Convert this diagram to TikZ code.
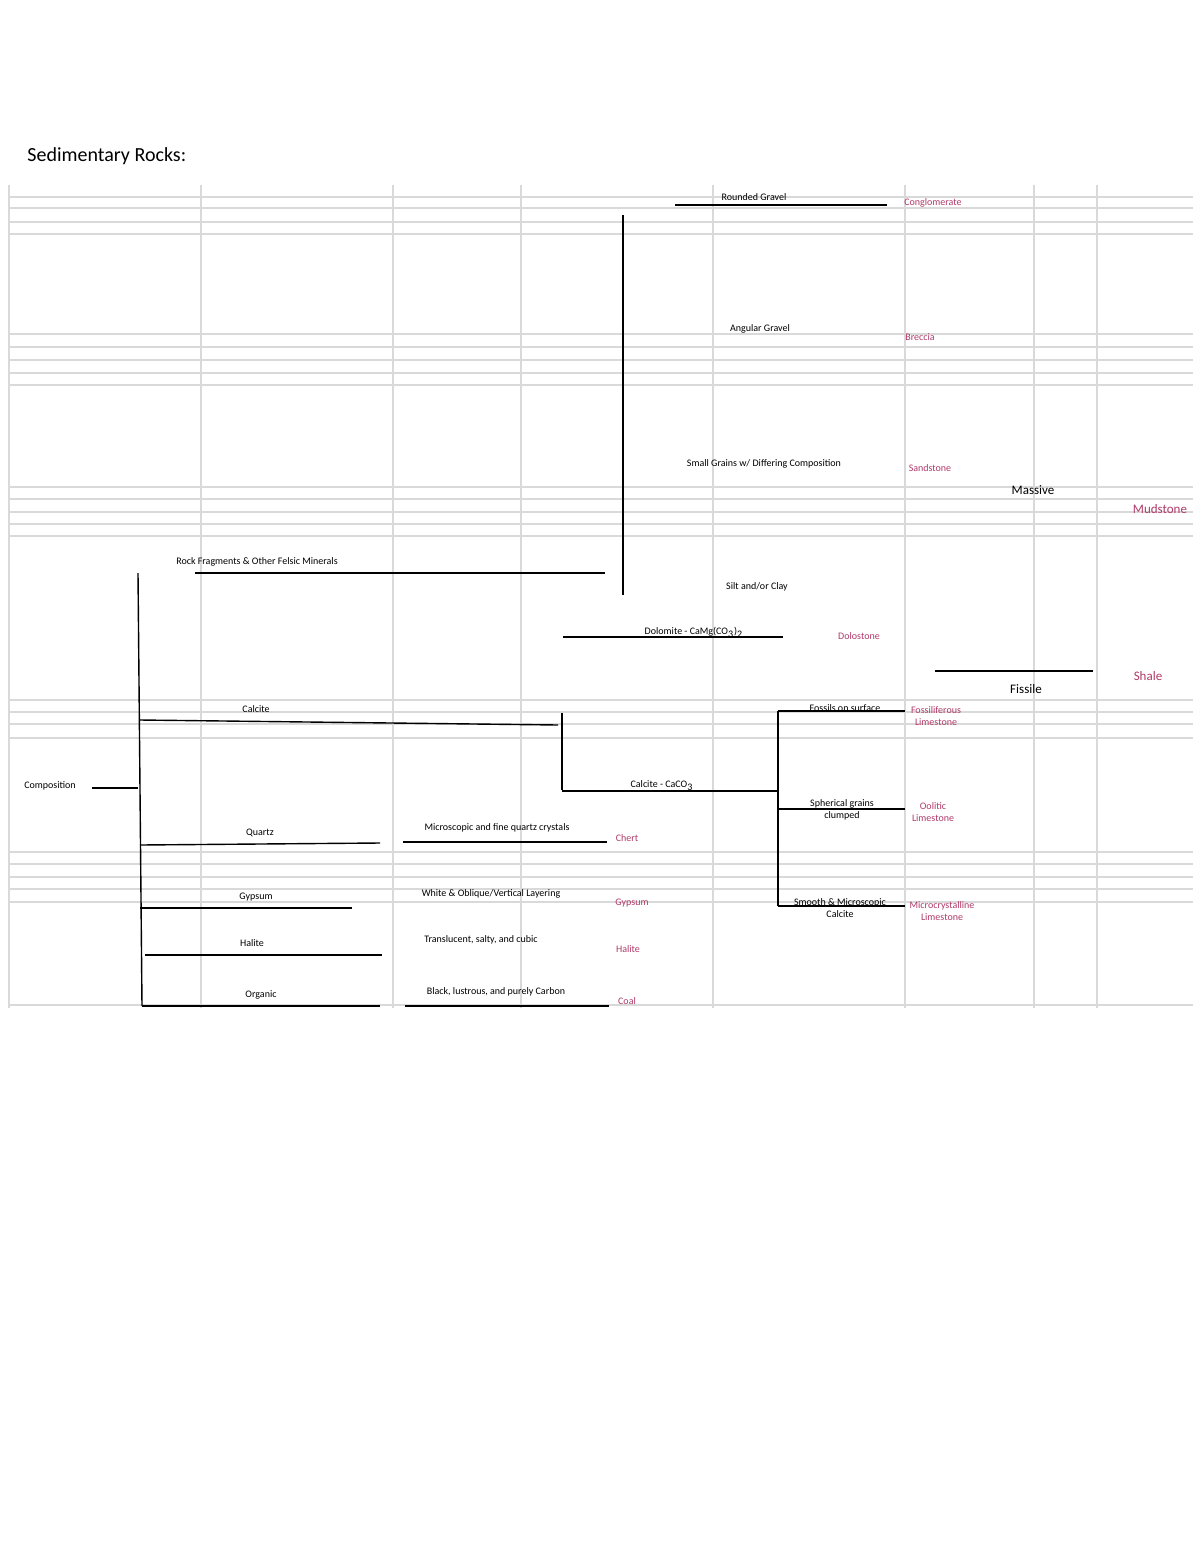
\documentclass[tikz,border=0pt]{standalone}
\usepackage{fontspec}
\setmainfont{Carlito}
\begin{document}
\begin{tikzpicture}[x=0.5pt,y=-0.5pt,
 grid/.style={draw=black!15,line width=0.6pt},
 ln/.style={draw=black,line width=0.7pt},
 t/.style={font=\fontsize{5}{6}\selectfont,inner sep=0pt,align=center},
 r/.style={t,text=rocky},
 big/.style={font=\fontsize{6.5}{7.5}\selectfont,inner sep=0pt},
 rbig/.style={big,text=rocky}]
\definecolor{rocky}{HTML}{B03A6A}
\useasboundingbox (0,0) rectangle (1200,1553);
\fill[white] (0,0) rectangle (1200,1553);
\node[anchor=west,font=\fontsize{10}{12}\selectfont,inner sep=0pt] (title) at (27,156) {Sedimentary Rocks:};
% grid
\foreach \x in {9,201,393,521,713,905,1034,1097}
  \draw[grid] (\x,185) -- (\x,1008);
\foreach \y in {197,208,222,234,334,347,360,373,385,487,499,512,524,536,700,712,724,738,852,864,877,889,902,1005}
  \draw[grid] (9,\y) -- (1193,\y);
% texts
\node[t] (rg) at (754,197) {Rounded Gravel};
\node[r] (cg) at (933,203) {Conglomerate};
\node[t] (ag) at (760,329) {Angular Gravel};
\node[r] (br) at (920,337) {Breccia};
\node[t] (sg) at (764,464) {Small Grains w/ Differing Composition};
\node[r] (ss) at (930,468) {Sandstone};
\node[big] (ma) at (1033,490) {Massive};
\node[rbig] (md) at (1160,509) {Mudstone};
\node[t] (rf) at (257,562) {Rock Fragments \& Other Felsic Minerals};
\node[t] (sc) at (757,587) {Silt and/or Clay};
\node[t] (do) at (694,632) {Dolomite - CaMg(CO\textsubscript{3})\textsubscript{2}};
\node[r] (ds) at (859,636) {Dolostone};
\node[rbig] (sh) at (1148,676) {Shale};
\node[big] (fi) at (1026,689) {Fissile};
\node[t] (ca) at (256,709) {Calcite};
\node[t] (fo) at (845,708) {Fossils on surface};
\node[r] (fl) at (936,716) {Fossiliferous\\[0.3pt]Limestone};
\node[t] (co) at (50,786) {Composition};
\node[t] (cc) at (662,786) {Calcite - CaCO\textsubscript{3}};
\node[t] (sp) at (842,810) {Spherical grains\\[0.3pt]clumped};
\node[r] (ol) at (933,812) {Oolitic\\[0.3pt]Limestone};
\node[t] (qz) at (260,833) {Quartz};
\node[t] (mq) at (497,828) {Microscopic and fine quartz crystals};
\node[r] (ch) at (627,838) {Chert};
\node[t] (wo) at (491,894) {White \& Oblique/Vertical Layering};
\node[t] (gy) at (256,897) {Gypsum};
\node[r] (gyr) at (632,903) {Gypsum};
\node[t] (sm) at (840,908) {Smooth \& Microscopic\\[0.3pt]Calcite};
\node[r] (mc) at (942,911) {Microcrystalline\\[0.3pt]Limestone};
\node[t] (ha) at (252,943) {Halite};
\node[t] (tr) at (481,940) {Translucent, salty, and cubic};
\node[r] (har) at (628,949) {Halite};
\node[t] (og) at (261,995) {Organic};
\node[t] (bl) at (496,992) {Black, lustrous, and purely Carbon};
\node[r] (coal) at (627,1001) {Coal};
% connectors
\draw[ln] (675,205) -- (887,205);
\draw[ln] (623,215) -- (623,595);
\draw[ln] (195,573) -- (605,573);
\draw[ln] (563,637) -- (783,637);
\draw[ln] (935,671) -- (1093,671);
\draw[ln] (138,573) -- (142,1006);
\draw[ln] (92,788) -- (138,788);
\draw[ln] (140,720) -- (558,725);
\draw[ln] (562,713) -- (562,790);
\draw[ln] (562,791) -- (778,791);
\draw[ln] (778,711) -- (778,906);
\draw[ln] (778,711) -- (905,711);
\draw[ln] (778,809) -- (905,809);
\draw[ln] (778,906) -- (905,906);
\draw[ln] (140,845) -- (380,843);
\draw[ln] (403,842) -- (607,842);
\draw[ln] (140,908) -- (352,908);
\draw[ln] (145,955) -- (382,955);
\draw[ln] (142,1006) -- (380,1006);
\draw[ln] (405,1006) -- (609,1006);
\end{tikzpicture}
\end{document}
